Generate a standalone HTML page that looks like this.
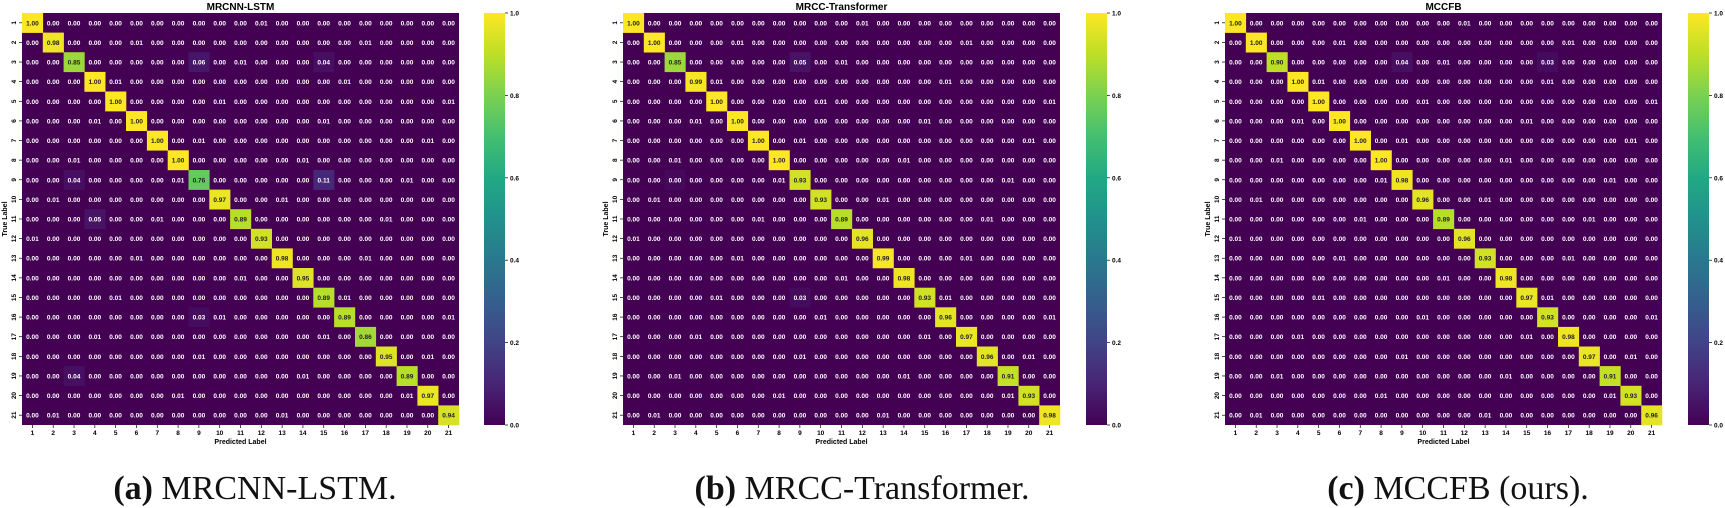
<!DOCTYPE html>
<html><head><meta charset="utf-8">
<style>
html,body{margin:0;padding:0;background:#fff;width:1725px;height:508px;overflow:hidden}
svg{display:block}
.cap{font-family:"Liberation Serif",serif;font-size:34px;fill:#111}
</style></head><body>
<svg id="s" width="1725" height="508" xmlns="http://www.w3.org/2000/svg">
<defs>
<linearGradient id="vg" x1="0" y1="1" x2="0" y2="0">
<stop offset="0" stop-color="#440154"/><stop offset="0.1" stop-color="#482475"/><stop offset="0.2" stop-color="#414487"/><stop offset="0.3" stop-color="#355f8d"/><stop offset="0.4" stop-color="#2a788e"/><stop offset="0.5" stop-color="#21918c"/><stop offset="0.6" stop-color="#22a884"/><stop offset="0.7" stop-color="#44bf70"/><stop offset="0.8" stop-color="#7ad151"/><stop offset="0.9" stop-color="#bddf26"/><stop offset="1" stop-color="#fde725"/>
</linearGradient>
</defs>
<g id="g"></g>
<text class="cap" x="255" y="499" text-anchor="middle"><tspan font-weight="bold">(a)</tspan> MRCNN-LSTM.</text>
<text class="cap" x="862" y="499" text-anchor="middle"><tspan font-weight="bold">(b)</tspan> MRCC-Transformer.</text>
<text class="cap" x="1458" y="499" text-anchor="middle"><tspan font-weight="bold">(c)</tspan> MCCFB (ours).</text>
</svg>
<script>
(function(){
var V=["#440154","#482475","#414487","#355f8d","#2a788e","#21918c","#22a884","#44bf70","#7ad151","#bddf26","#fde725"];
function hx(c){return [parseInt(c.substr(1,2),16),parseInt(c.substr(3,2),16),parseInt(c.substr(5,2),16)];}
function vir(t){t=Math.max(0,Math.min(1,t));var p=t*10,i=Math.min(9,Math.floor(p)),f=p-i,a=hx(V[i]),b=hx(V[i+1]);
return "rgb("+a.map(function(x,k){return Math.round(x+(b[k]-x)*f)}).join(",")+")";}
var panels=[
{x:22,t:"MRCNN-LSTM",cb:484,d:[1.00,0.98,0.85,1.00,1.00,1.00,1.00,1.00,0.76,0.97,0.89,0.93,0.98,0.95,0.89,0.89,0.86,0.95,0.89,0.97,0.94],
 off:{"3,9":0.06,"3,15":0.04,"9,3":0.04,"9,15":0.11,"11,4":0.05,"19,3":0.04,"16,9":0.03}},
{x:623,t:"MRCC-Transformer",cb:1086,d:[1.00,1.00,0.85,0.99,1.00,1.00,1.00,1.00,0.93,0.93,0.89,0.96,0.99,0.98,0.93,0.96,0.97,0.96,0.91,0.93,0.98],
 off:{"3,9":0.05,"9,3":0.02,"15,9":0.03}},
{x:1225,t:"MCCFB",cb:1688,d:[1.00,1.00,0.90,1.00,1.00,1.00,1.00,1.00,0.98,0.96,0.89,0.96,0.93,0.98,0.97,0.93,0.98,0.97,0.91,0.93,0.96],
 off:{"3,9":0.04,"3,16":0.03}}];
var T0=13,W=437,H=412,cw=W/21,ch=H/21,h="";
panels.forEach(function(p){
 h+='<rect x="'+p.x+'" y="'+T0+'" width="'+W+'" height="'+H+'" fill="#440154"/>';
 h+='<text x="'+(p.x+W/2)+'" y="10" font-family="Liberation Sans" font-weight="bold" font-size="10" text-anchor="middle">'+p.t+'</text>';
 for(var r=0;r<21;r++){for(var c=0;c<21;c++){
  var v=(r==c)?p.d[r]:(p.off[(r+1)+","+(c+1)]||0);
  var x=p.x+c*cw,y=T0+r*ch;
  if(v>0.001)h+='<rect x="'+x.toFixed(1)+'" y="'+y.toFixed(1)+'" width="'+(cw+0.3).toFixed(1)+'" height="'+(ch+0.3).toFixed(1)+'" fill="'+vir(v)+'"/>';
  var shown=(r==c)?v:(v>0.02?v:(((r*7+c*3)%11==0)?0.01:0));
  h+='<text x="'+(x+cw/2).toFixed(1)+'" y="'+(y+ch/2+2.5).toFixed(1)+'" font-family="Liberation Sans" font-weight="bold" font-size="6.5" text-anchor="middle" fill="'+(v>0.5?"#222":"#fff")+'">'+shown.toFixed(2)+'</text>';
 }}
 for(var i=0;i<21;i++){
  var cx=p.x+(i+0.5)*cw, cy=T0+(i+0.5)*ch;
  h+='<line x1="'+cx+'" y1="'+(T0+H)+'" x2="'+cx+'" y2="'+(T0+H+3)+'" stroke="#000" stroke-width="0.7"/>';
  h+='<text x="'+cx+'" y="'+(T0+H+10)+'" font-family="Liberation Sans" font-weight="bold" font-size="6.5" text-anchor="middle">'+(i+1)+'</text>';
  h+='<line x1="'+(p.x-3)+'" y1="'+cy+'" x2="'+p.x+'" y2="'+cy+'" stroke="#000" stroke-width="0.7"/>';
  h+='<text transform="translate('+(p.x-6)+','+cy+') rotate(-90)" font-family="Liberation Sans" font-weight="bold" font-size="6.5" text-anchor="middle">'+(i+1)+'</text>';
 }
 h+='<text x="'+(p.x+W/2)+'" y="'+(T0+H+19)+'" font-family="Liberation Sans" font-weight="bold" font-size="7" text-anchor="middle">Predicted Label</text>';
 h+='<text transform="translate('+(p.x-15)+','+(T0+H/2)+') rotate(-90)" font-family="Liberation Sans" font-weight="bold" font-size="7" text-anchor="middle">True Label</text>';
 h+='<rect x="'+p.cb+'" y="'+T0+'" width="21" height="'+H+'" fill="url(#vg)"/>';
 for(var k=0;k<=5;k++){var ty=T0+H-k*H/5;
  h+='<line x1="'+(p.cb+21)+'" y1="'+ty+'" x2="'+(p.cb+24)+'" y2="'+ty+'" stroke="#000" stroke-width="0.7"/>';
  h+='<text x="'+(p.cb+26)+'" y="'+(ty+2.5)+'" font-family="Liberation Sans" font-weight="bold" font-size="6.5">'+(k/5).toFixed(1)+'</text>';}
});
document.getElementById("g").innerHTML=h;
})();
</script>
</body></html>
